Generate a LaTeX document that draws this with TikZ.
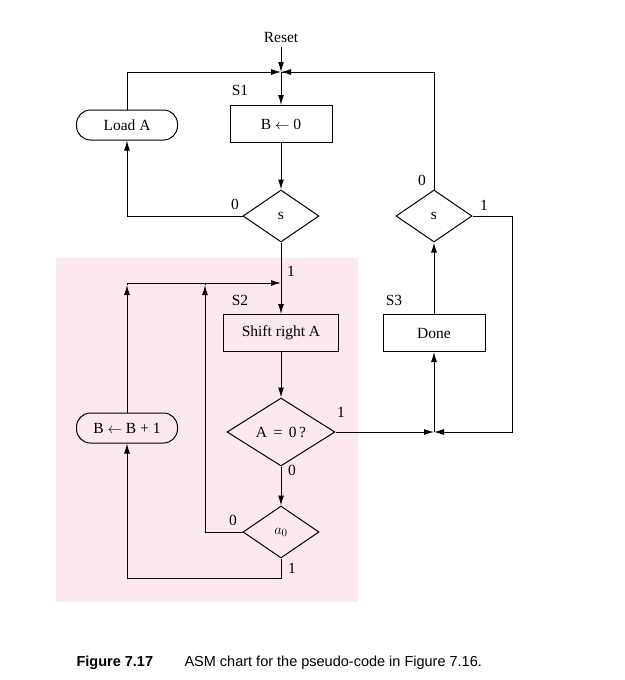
\documentclass[tikz,border=0pt]{standalone}
\usepackage{fontspec}
\setmainfont{Liberation Serif}
\newfontfamily\capfont{Liberation Sans}
\usetikzlibrary{shapes.geometric,arrows.meta}
\definecolor{pinkbg}{RGB}{252,232,240}
\begin{document}
\begin{tikzpicture}[x=1pt,y=-1pt,
  box/.style={draw,line width=1pt,minimum width=102pt,minimum height=37pt,inner sep=0pt,font=\fontsize{15.5}{17}\selectfont},
  rbox/.style={draw,line width=1pt,rounded corners=14pt,minimum width=101pt,minimum height=30pt,inner sep=0pt,font=\fontsize{15.5}{17}\selectfont},
  dia/.style={draw,line width=1pt,diamond,aspect=1.46,minimum width=76pt,minimum height=52pt,inner sep=0pt,font=\fontsize{15.5}{17}\selectfont},
  lbl/.style={font=\fontsize{15.5}{17}\selectfont},
  ln/.style={line width=1pt},
  ar/.style={line width=1pt,-{Latex[length=10pt,width=6pt]}}]
\useasboundingbox (0,0) rectangle (624,680);
\fill[pinkbg] (56,258) rectangle (358,602);
\node[lbl] (reset) at (281,38) {Reset};
\node[lbl] (s1) at (240,90) {S1};
\node[box] (b0) at (281,124) {B $\leftarrow$ 0};
\node[rbox] (loada) at (127,125) {Load A};
\node[dia] (d1) at (281,216) {s};
\node[lbl] at (235,204) {0};
\node[lbl] at (291,271) {1};
\node[lbl] (s2) at (240,300) {S2};
\node[box,minimum width=115pt] (shift) at (281,333) {Shift right A};
\node[rbox] (inc) at (127,428) {B $\leftarrow$ B + 1};
\node[dia,minimum width=108pt,minimum height=68pt] (d2) at (281,432) {A\, =\, 0\,?};
\node[lbl] at (341,412) {1};
\node[lbl] at (292,470) {0};
\node[dia] (d3) at (281,532) {$a_0$};
\node[lbl] at (233,520) {0};
\node[lbl] at (292,568) {1};
\node[lbl] (s3) at (394,300) {S3};
\node[box] (done) at (434,333) {Done};
\node[dia] (d4) at (434,216) {s};
\node[lbl] at (422,180) {0};
\node[lbl] at (484,205) {1};
\coordinate (top) at (281,72);
\coordinate (mid) at (281,283);
\coordinate (bot) at (434,432);
\draw[ar] (reset.south) -- (top);
\draw[ar] (top) -- (b0.north);
\draw[ar] (loada.north) |- (top);
\draw[ln] (d4.north) |- (top);
\draw[ar] (434,72) -- (top);
\draw[ar] (b0.south) -- (d1.north);
\draw[ar] (d1.west) -| (loada.south);
\draw[ln] (d1.south) -- (mid);
\draw[ar] (mid) -- (shift.north);
\draw[ar] (127,283) -- (mid);
\draw[ar] (inc.north) -- (127,285);
\draw[ln] (127,285) -- (127,283);
\draw[ar] (d3.west) -| (205,285);
\draw[ln] (205,285) -- (205,283);
\draw[ar] (shift.south) -- (d2.north);
\draw[ar] (d2.south) -- (d3.north);
\draw[ar] (d3.south) -- (281,578) -| (inc.south);
\draw[ar] (d2.east) -- (bot);
\draw[ar] (d4.east) -| (512,432) -- (bot);
\draw[ar] (bot) -- (done.south);
\draw[ar] (done.north) -- (d4.south);
\node[anchor=west,font=\capfont\bfseries\fontsize{14.5}{16}\selectfont] (fig) at (73,663) {Figure 7.17};
\node[anchor=west,font=\capfont\fontsize{14.5}{16}\selectfont] (cap) at (181,663) {ASM chart for the pseudo-code in Figure 7.16.};
\end{tikzpicture}
\end{document}
